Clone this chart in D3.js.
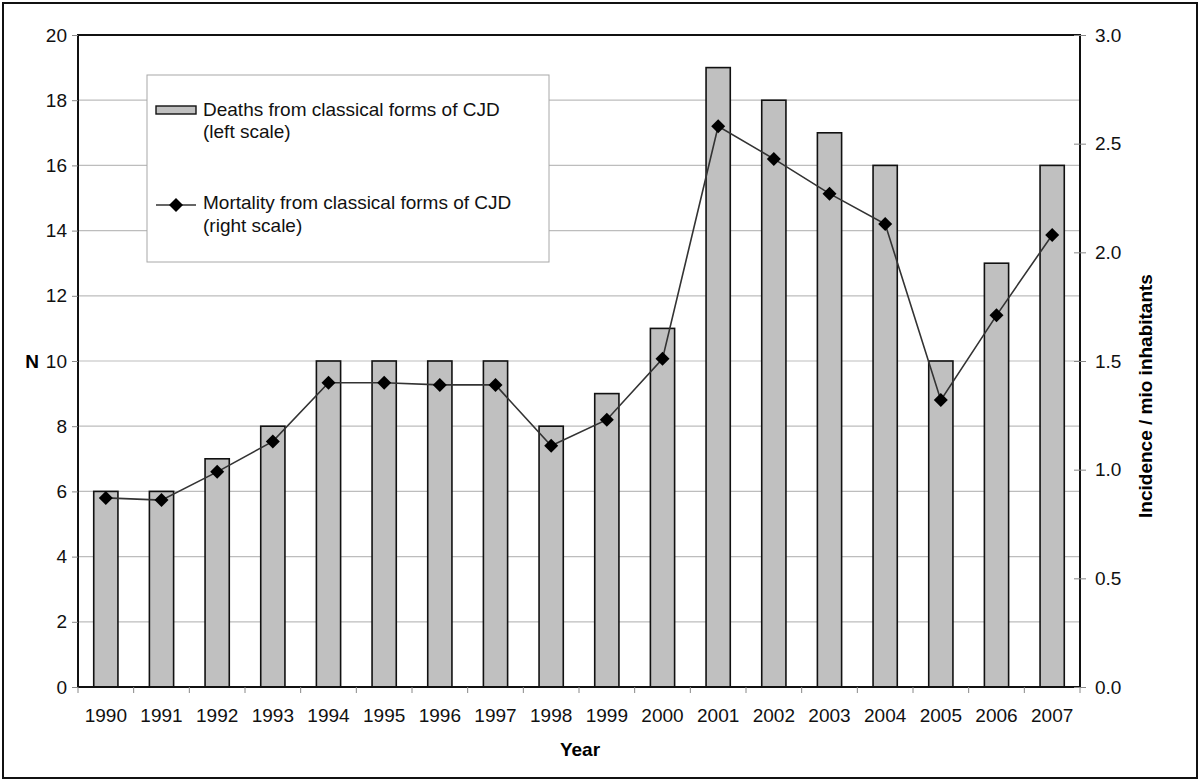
<!DOCTYPE html>
<html>
<head>
<meta charset="utf-8">
<script src="https://cdn.jsdelivr.net/npm/d3@7"></script>
<style>
body { margin: 0; background: #fff; }
text { font-family: "Liberation Sans", Arial, sans-serif; }
</style>
</head>
<body>
<div id="viz-container"></div>
<script>
// data
let years = ["1990", "1991", "1992", "1993", "1994", "1995", "1996", "1997", "1998",
    "1999", "2000", "2001", "2002", "2003", "2004", "2005", "2006", "2007"];
let deaths = [6, 6, 7, 8, 10, 10, 10, 10, 8, 9, 11, 19, 18, 17, 16, 10, 13, 16];
let mortality = [0.87, 0.86, 0.99, 1.13, 1.40, 1.40, 1.39, 1.39, 1.11, 1.23,
    1.51, 2.58, 2.43, 2.27, 2.13, 1.32, 1.71, 2.08];
let leftTicks = [0, 2, 4, 6, 8, 10, 12, 14, 16, 18, 20];
let rightTicks = [0, 0.5, 1, 1.5, 2, 2.5, 3];

let W = 1200, H = 781;
let pLeft = 78, pRight = 1080, pTop = 35, pBottom = 687;
let fs = "19px";

let viz = d3.select("#viz-container")
    .append("svg")
    .attr("width", W)
    .attr("height", H);

// outer frame
viz.append("rect")
    .attr("x", 3).attr("y", 3)
    .attr("width", W - 6).attr("height", H - 6)
    .attr("fill", "white")
    .attr("stroke", "#111")
    .attr("stroke-width", 2);

let x = d3.scaleBand().domain(years).range([pLeft, pRight]).paddingInner(0.565).paddingOuter(0.2825);
let yL = d3.scaleLinear().domain([0, 20]).range([pBottom, pTop]);
let yR = d3.scaleLinear().domain([0, 3]).range([pBottom, pTop]);

// gridlines
viz.selectAll(".grid").data(leftTicks.slice(1, -1)).enter().append("line")
    .attr("class", "grid")
    .attr("x1", pLeft).attr("x2", pRight)
    .attr("y1", d => yL(d)).attr("y2", d => yL(d))
    .attr("stroke", "#bdbdbd")
    .attr("stroke-width", 1.2);

// legend box (sits behind bars, covers gridlines)
let lg = viz.append("g").attr("transform", "translate(147,75)");
lg.append("rect")
    .attr("x", 0).attr("y", 0)
    .attr("width", 402).attr("height", 187)
    .attr("fill", "white")
    .attr("stroke", "#a8a8a8")
    .attr("stroke-width", 1);

// bars
viz.selectAll(".bar").data(deaths).enter().append("rect")
    .attr("class", "bar")
    .attr("x", (d, i) => x(years[i]))
    .attr("y", d => yL(d))
    .attr("width", x.bandwidth())
    .attr("height", d => pBottom - yL(d))
    .attr("fill", "#c0c0c0")
    .attr("stroke", "#111")
    .attr("stroke-width", 1.6);

// line + diamonds
let cx = (d, i) => x(years[i]) + x.bandwidth() / 2;
let line = d3.line().x(cx).y(d => yR(d));
viz.append("path")
    .datum(mortality)
    .attr("d", line)
    .attr("fill", "none")
    .attr("stroke", "#333")
    .attr("stroke-width", 1.6);

let diamond = d3.symbol().type(d3.symbolSquare).size(98);
viz.selectAll(".pt").data(mortality).enter().append("path")
    .attr("class", "pt")
    .attr("d", diamond)
    .attr("transform", (d, i) => "translate(" + cx(d, i) + "," + yR(d) + ") rotate(45)")
    .attr("fill", "black");

// plot frame
viz.append("rect")
    .attr("x", pLeft).attr("y", pTop)
    .attr("width", pRight - pLeft).attr("height", pBottom - pTop)
    .attr("fill", "none")
    .attr("stroke", "#111")
    .attr("stroke-width", 2);

// left axis
let axL = viz.append("g")
    .attr("transform", "translate(" + pLeft + ",0)")
    .call(d3.axisLeft(yL).tickValues(leftTicks).tickSize(6).tickPadding(5));
axL.select(".domain").remove();
axL.selectAll("line").attr("stroke", "#888");
axL.selectAll("text").attr("font-size", fs).attr("fill", "#111");

// right axis
let axR = viz.append("g")
    .attr("transform", "translate(" + pRight + ",0)")
    .call(d3.axisRight(yR).tickValues(rightTicks).tickFormat(d3.format(".1f")).tickSize(6).tickPadding(9));
axR.select(".domain").remove();
axR.selectAll("line").attr("x1", -6).attr("stroke", "#888");
axR.selectAll("text").attr("font-size", fs).attr("fill", "#111");

// bottom axis: ticks between categories
let bounds = d3.range(years.length + 1).map(i => pLeft + i * (pRight - pLeft) / years.length);
viz.selectAll(".xtick").data(bounds).enter().append("line")
    .attr("class", "xtick")
    .attr("x1", d => d).attr("x2", d => d)
    .attr("y1", pBottom).attr("y2", pBottom + 6)
    .attr("stroke", "#888");
viz.selectAll(".xlab").data(years).enter().append("text")
    .attr("class", "xlab")
    .attr("x", d => x(d) + x.bandwidth() / 2)
    .attr("y", 722)
    .attr("text-anchor", "middle")
    .attr("font-size", fs)
    .attr("fill", "#111")
    .text(d => d);

// axis titles
viz.append("text")
    .attr("x", 580).attr("y", 756)
    .attr("text-anchor", "middle")
    .attr("font-size", fs).attr("font-weight", "bold")
    .text("Year");
viz.append("text")
    .attr("x", 32).attr("y", 368)
    .attr("text-anchor", "middle")
    .attr("font-size", fs).attr("font-weight", "bold")
    .text("N");
viz.append("text")
    .attr("transform", "translate(1152,396) rotate(-90)")
    .attr("text-anchor", "middle")
    .attr("font-size", fs).attr("font-weight", "bold")
    .text("Incidence / mio inhabitants");

// legend contents
lg.append("rect")
    .attr("x", 9).attr("y", 31).attr("width", 40).attr("height", 8)
    .attr("fill", "#c0c0c0").attr("stroke", "#111").attr("stroke-width", 1.4);
lg.append("text").attr("x", 56).attr("y", 41).attr("font-size", fs).attr("fill", "#111")
    .text("Deaths from classical forms of CJD");
lg.append("text").attr("x", 56).attr("y", 63).attr("font-size", fs).attr("fill", "#111")
    .text("(left scale)");
lg.append("line")
    .attr("x1", 9).attr("x2", 49).attr("y1", 130).attr("y2", 130)
    .attr("stroke", "#333").attr("stroke-width", 1.6);
lg.append("path")
    .attr("d", diamond)
    .attr("transform", "translate(29,130) rotate(45)")
    .attr("fill", "black");
lg.append("text").attr("x", 56).attr("y", 134).attr("font-size", fs).attr("fill", "#111")
    .text("Mortality from classical forms of CJD");
lg.append("text").attr("x", 56).attr("y", 157).attr("font-size", fs).attr("fill", "#111")
    .text("(right scale)");
</script>
</body>
</html>
